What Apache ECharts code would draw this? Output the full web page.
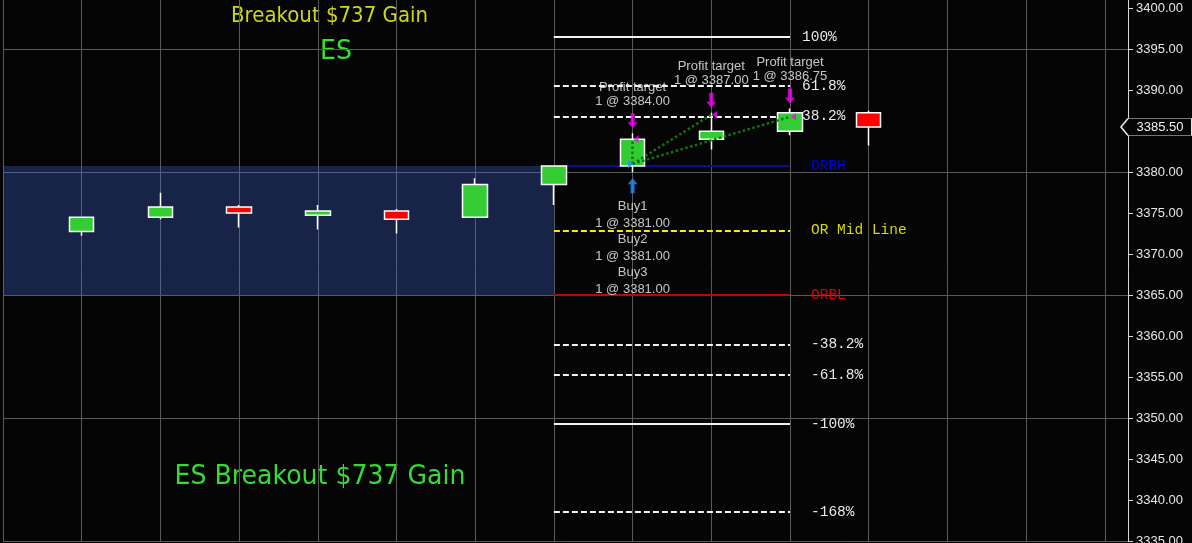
<!DOCTYPE html>
<html>
<head>
<meta charset="utf-8">
<script src="https://cdn.jsdelivr.net/npm/echarts@6/dist/echarts.min.js"></script>
<style>
  html, body { margin: 0; padding: 0; background: #050505; }
  #chart { width: 1192px; height: 543px; }
</style>
</head>
<body>
<div id="chart"></div>
<script>
// ES one-minute bars around the opening-range breakout (slot = bar position)
const barSlots = [1, 2, 3, 4, 5, 6, 7, 8, 9, 10, 11];
const opens  = [3372.75, 3374.50, 3375.75, 3374.75, 3375.25, 3374.50, 3378.50, 3380.75, 3384.00, 3385.00, 3387.25];
const closes = [3374.50, 3375.75, 3375.00, 3375.25, 3374.25, 3378.50, 3380.75, 3384.00, 3385.00, 3387.25, 3385.50];
const lows   = [3372.25, 3374.25, 3373.25, 3373.00, 3372.50, 3374.50, 3376.00, 3380.00, 3382.75, 3384.50, 3383.25];
const highs  = [3374.50, 3377.50, 3376.00, 3376.00, 3375.50, 3379.25, 3380.75, 3384.75, 3387.25, 3387.75, 3387.50];

// Opening range box
const rangeHigh = 3380.75;
const rangeLow = 3365.00;
const rangeFromSlot = 0;
const rangeToSlot = 7;

// Opening-range levels and Fibonacci extensions, drawn from slot 7 to slot 10
const levelNames  = ['100%', '61.8%', '38.2%', 'ORBH', 'OR Mid Line', 'ORBL', '-38.2%', '-61.8%', '-100%', '-168%'];
const levelValues = [3396.50, 3390.48, 3386.77, 3380.75, 3372.875, 3365.00, 3358.98, 3355.27, 3349.25, 3338.54];
const levelFromSlot = 7;
const levelToSlot = 10;

// The trade: three contracts bought together, scaled out at three targets
const entrySlot = 8;
const entryPrice = 3381.00;
const entryNames = ['Buy1', 'Buy2', 'Buy3'];
const exitSlots = [8, 9, 10];
const exitPrices = [3384.00, 3387.00, 3386.75];

// Price scale: labelled every 5 points, grid lines every 15
const priceMin = 3335;
const priceMax = 3401;
const priceStep = 5;
const gridStep = 15;

// Headings
const headingTop = 'Breakout $737 Gain';
const headingSymbol = 'ES';
const headingBottom = 'ES Breakout $737 Gain';

// ---- styling ----
const GRID_LEFT = 3, GRID_RIGHT = 64;
const SLOT_MAX = 14.295;
const GRID_COLOR = '#5a5a5a';
const MONO = '"Liberation Mono", "DejaVu Sans Mono", monospace';
const SANS = '"Liberation Sans", Arial, sans-serif';

const levelStyle = {
  '100%':        { line: '#f2f2f2', type: 'solid',  text: '#e8e8e8', gap: 12 },
  '61.8%':       { line: '#f2f2f2', type: [6, 3],   text: '#e8e8e8', gap: 12 },
  '38.2%':       { line: '#f2f2f2', type: [6, 3],   text: '#e8e8e8', gap: 12 },
  'ORBH':        { line: '#0a0a9e', type: 'solid',  text: '#0000e6', gap: 21 },
  'OR Mid Line': { line: '#f0f000', type: [6, 3],   text: '#d8d800', gap: 21 },
  'ORBL':        { line: '#b40a0a', type: 'solid',  text: '#e00000', gap: 21 },
  '-38.2%':      { line: '#f2f2f2', type: [6, 3],   text: '#e8e8e8', gap: 21 },
  '-61.8%':      { line: '#f2f2f2', type: [6, 3],   text: '#e8e8e8', gap: 21 },
  '-100%':       { line: '#f2f2f2', type: 'solid',  text: '#e8e8e8', gap: 21 },
  '-168%':       { line: '#f2f2f2', type: [6, 3],   text: '#e8e8e8', gap: 21 }
};

const ARROW_DOWN = 'path://M3,0 L7,0 L7,9 L10,9 L5,15 L0,9 L3,9 Z';
const ARROW_UP = 'path://M5,0 L10,6 L7,6 L7,15 L3,15 L3,6 L0,6 Z';
const TRI_LEFT = 'path://M0,4 L5,0 L5,8 Z';
const TRI_RIGHT = 'path://M5,4.5 L0,0 L0,9 Z';
const PRICE_TAG = 'path://M0,8.5 L7,0 L71,0 L71,17 L7,17 Z';

const candleData = barSlots.map((s, i) => [s, opens[i], closes[i], lows[i], highs[i]]);
const highAt = (slot) => highs[barSlots.indexOf(slot)];
const lowAt = (slot) => lows[barSlots.indexOf(slot)];
const lastClose = closes[closes.length - 1];

const levelLines = levelNames.map((name, i) => {
  const st = levelStyle[name];
  return [
    {
      name: name,
      coord: [levelFromSlot, levelValues[i]],
      lineStyle: { color: st.line, type: st.type, width: 2 },
      label: {
        show: true, position: 'end', distance: st.gap, formatter: name,
        color: st.text, fontFamily: MONO, fontSize: 14.5
      }
    },
    { coord: [levelToSlot, levelValues[i]] }
  ];
});

const chart = echarts.init(document.getElementById('chart'), null, { renderer: 'canvas' });

chart.setOption({
  backgroundColor: '#050505',
  animation: false,
  grid: { left: GRID_LEFT, right: GRID_RIGHT, top: 0, bottom: 2, containLabel: false, outerBoundsMode: 'none' },
  xAxis: {
    type: 'value', min: 0, max: SLOT_MAX, interval: 1,
    axisLine: { show: false, onZero: false }, axisTick: { show: false }, axisLabel: { show: false },
    splitLine: { show: true, lineStyle: { color: GRID_COLOR, width: 1 } }
  },
  yAxis: [
    {
      type: 'value', position: 'right', min: priceMin, max: priceMax, interval: priceStep,
      axisLine: { show: true, onZero: false, lineStyle: { color: '#d8d8d8', width: 1 } },
      axisTick: { show: true, inside: false, length: 5, lineStyle: { color: '#d8d8d8' } },
      axisLabel: {
        show: true, margin: 8, color: '#e6e6e6', fontFamily: SANS, fontSize: 13,
        showMaxLabel: false, formatter: (v) => v.toFixed(2)
      },
      splitLine: { show: false }
    },
    {
      type: 'value', position: 'left', min: priceMin, max: priceMax, interval: gridStep,
      axisLine: { show: false, onZero: false }, axisTick: { show: false }, axisLabel: { show: false },
      splitLine: { show: true, showMaxLine: false, lineStyle: { color: GRID_COLOR, width: 1 } }
    }
  ],
  graphic: [
    { type: 'text', x: 329.5, y: 16.2, scaleX: 0.92, silent: true,
      style: { text: headingTop, fill: '#cdd61e', font: '21.5px "DejaVu Sans"', align: 'center', verticalAlign: 'middle' } },
    { type: 'text', x: 336, y: 51.7, scaleX: 0.92, silent: true,
      style: { text: headingSymbol, fill: '#36e036', font: '27.4px "DejaVu Sans"', align: 'center', verticalAlign: 'middle' } },
    { type: 'text', x: 320, y: 477, scaleX: 0.92, silent: true,
      style: { text: headingBottom, fill: '#33dd33', font: '27.4px "DejaVu Sans"', align: 'center', verticalAlign: 'middle' } }
  ],
  series: [
    {
      name: 'ES',
      type: 'candlestick',
      data: candleData,
      encode: { x: 0, y: [1, 2, 3, 4] },
      barWidth: 25,
      z: 2,
      itemStyle: {
        color: '#33cc33', color0: '#ff0000',
        borderColor: '#ffffff', borderColor0: '#ffffff', borderWidth: 1.5
      },
      markArea: {
        silent: true, z: 1,
        itemStyle: { color: 'rgba(65,105,225,0.3)' },
        data: [[{ xAxis: rangeFromSlot, yAxis: rangeHigh }, { xAxis: rangeToSlot, yAxis: rangeLow }]]
      },
      markLine: {
        silent: true, z: 1.5, symbol: ['none', 'none'],
        data: levelLines
      },
      markPoint: {
        silent: true, z: 6,
        data: [{
          coord: [SLOT_MAX, lastClose], value: lastClose,
          symbol: PRICE_TAG, symbolSize: [71, 17], symbolOffset: [28.5, 0],
          itemStyle: { color: '#050505', borderColor: '#e6e6e6', borderWidth: 1 },
          label: {
            show: true, position: 'inside', offset: [3.5, 0.5],
            formatter: (p) => p.value.toFixed(2),
            color: '#f0f0f0', fontFamily: SANS, fontSize: 13
          }
        }]
      }
    },
    {
      name: 'Exit arrows',
      type: 'scatter',
      z: 4,
      data: exitSlots.map((s) => [s, highAt(s)]),
      symbol: ARROW_DOWN, symbolSize: [10, 15], symbolOffset: [0, -12.5],
      itemStyle: { color: '#ff00ff' },
      label: {
        show: true, position: 'top', distance: 5,
        formatter: (p) => 'Profit target\n1 @ ' + exitPrices[p.dataIndex].toFixed(2),
        color: '#f2f2f2', fontFamily: SANS, fontSize: 13, lineHeight: 14, align: 'center'
      }
    },
    {
      name: 'Exit fills',
      type: 'scatter',
      z: 4,
      data: exitSlots.map((s, k) => [s, exitPrices[k]]),
      symbol: TRI_LEFT, symbolSize: [5, 8], symbolOffset: [3.5, 0],
      itemStyle: { color: '#ff00ff' }
    },
    {
      name: 'Entry arrow',
      type: 'scatter',
      z: 4,
      data: [[entrySlot, lowAt(entrySlot)]],
      symbol: ARROW_UP, symbolSize: [10, 15], symbolOffset: [0, 13.5],
      itemStyle: { color: '#1e90ff' },
      label: {
        show: true, position: 'bottom', distance: 5,
        formatter: () => entryNames.map((n) => n + '\n1 @ ' + entryPrice.toFixed(2)).join('\n'),
        color: '#f2f2f2', fontFamily: SANS, fontSize: 13, lineHeight: 16.6, align: 'center'
      }
    },
    {
      name: 'Entry fill',
      type: 'scatter',
      z: 4,
      data: [[entrySlot, entryPrice]],
      symbol: TRI_RIGHT, symbolSize: [5, 9], symbolOffset: [-2, 0],
      itemStyle: { color: '#1e90ff' },
      markLine: {
        silent: true, z: 3, symbol: ['none', 'none'],
        lineStyle: { color: '#0f760f', type: 'dotted', width: 2.5 },
        label: { show: false },
        data: exitSlots.map((s, k) => [{ coord: [entrySlot, entryPrice] }, { coord: [s, exitPrices[k]] }])
      }
    }
  ]
});
</script>
</body>
</html>
